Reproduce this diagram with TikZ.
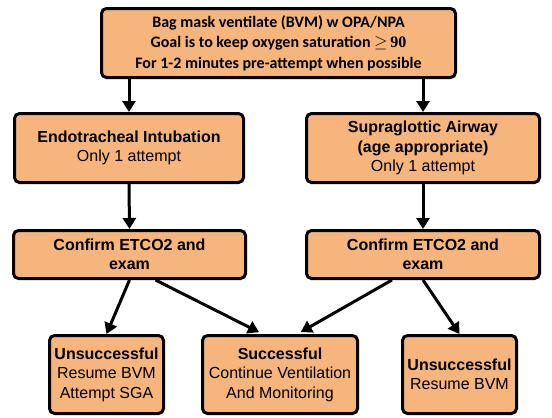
\documentclass[tikz,border=0pt]{standalone}
\usepackage{fontspec}
\setmainfont{Liberation Sans}
\newfontfamily\calib{Carlito}
\newfontfamily\tnr{Liberation Serif}
\usetikzlibrary{arrows.meta,calc}
\definecolor{boxfill}{HTML}{F7B57E}
\tikzset{
  fbox/.style={draw=black, fill=boxfill, line width=3pt, rounded corners=5pt,
    align=center, inner sep=0pt, font=\fontsize{16}{19.5}\selectfont},
  arr/.style={line width=3pt, -{Triangle[length=11pt,width=13pt]}},
}
\begin{document}
\begin{tikzpicture}[x=1pt,y=-1pt]
\useasboundingbox (0,0) rectangle (552,418);
\node[fbox, minimum width=354pt, minimum height=69pt, font=\calib\bfseries\fontsize{16}{20.5}\selectfont] (top) at (278.5,43)
  {Bag mask ventilate (BVM) w OPA/NPA\\Goal is to keep oxygen saturation {\tnr$\geq$\,90}\\For 1-2 minutes pre-attempt when possible};
\node[fbox, minimum width=229pt, minimum height=69pt] (endo) at (129,148)
  {\textbf{Endotracheal Intubation}\\Only 1 attempt};
\node[fbox, minimum width=233pt, minimum height=69pt] (supra) at (423,148)
  {\textbf{Supraglottic Airway}\\\textbf{(age appropriate)}\\Only 1 attempt};
\node[fbox, minimum width=232pt, minimum height=48pt] (confL) at (129.5,254.5)
  {\textbf{Confirm ETCO2 and}\\\textbf{exam}};
\node[fbox, minimum width=233pt, minimum height=48pt] (confR) at (423,254.5)
  {\textbf{Confirm ETCO2 and}\\\textbf{exam}};
\node[fbox, minimum width=114pt, minimum height=78pt] (unsL) at (106.5,374.5)
  {\textbf{Unsuccessful}\\Resume BVM\\Attempt SGA};
\node[fbox, minimum width=155pt, minimum height=78pt] (succ) at (280,374.5)
  {\textbf{Successful}\\Continue Ventilation\\And Monitoring};
\node[fbox, minimum width=114pt, minimum height=78pt] (unsR) at (459.5,374.5)
  {\textbf{Unsuccessful}\\Resume BVM};
\draw[arr] (top.south -| endo.north) -- (endo.north);
\draw[arr] (top.south -| supra.north) -- (supra.north);
\draw[arr] (endo.south) -- (confL.north);
\draw[arr] (supra.south) -- (confR.north);
\draw[arr] (confL.south) -- (unsL.north);
\draw[arr, shorten >=4pt] ($(confL.south)+(26,0)$) -- ($(succ.north west)!0.39!(succ.north east)$);
\draw[arr, shorten >=4pt] ($(confR.south)+(-31,0)$) -- ($(succ.north west)!0.61!(succ.north east)$);
\draw[arr] (confR.south) -- (unsR.north);
\end{tikzpicture}
\end{document}
